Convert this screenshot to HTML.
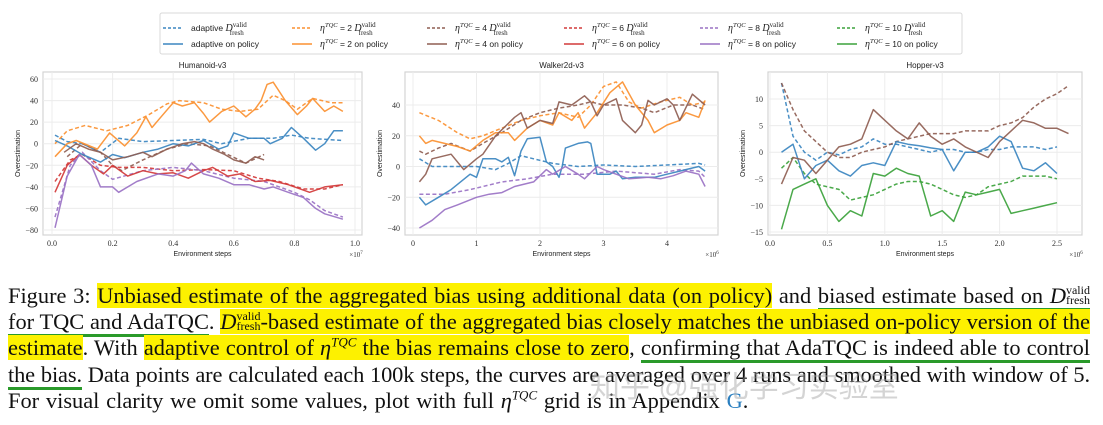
<!DOCTYPE html>
<html><head><meta charset="utf-8">
<style>
body{margin:0;background:#fff;width:1103px;height:425px;overflow:hidden;position:relative;font-family:"Liberation Serif",serif}
svg{position:absolute;left:0;top:0}
.cap{position:absolute;left:8px;width:1082px;height:26px;line-height:26px;font-size:22.4px;color:#111;text-align:justify;text-align-last:justify;white-space:nowrap}
.hl{background:#fdf100}
.ul{border-bottom:3px solid #2a9a2a}
.D{font-style:italic}
.ss{display:inline-block;font-size:12px;line-height:10px;height:0;vertical-align:top;position:relative;top:2px;text-align:left;text-align-last:left}
sup{line-height:0;font-size:13px}
</style></head><body>
<svg id="fig" width="1103" height="270"></svg>

<div class="cap" style="top:283px">Figure 3: <span class="hl">Unbiased estimate of the aggregated bias using additional data (on policy)</span> and <span class="ul">biased estimate based on <span class="D">D</span><span class="ss">valid<br>fresh</span></span></div>
<div class="cap" style="top:309px"><span class="ul">for TQC and AdaTQC</span>. <span class="hl"><span class="D">D</span><span class="ss">valid<br>fresh</span>-based estimate of the aggregated bias closely matches the unbiased on-policy version of the</span></div>
<div class="cap" style="top:335px"><span class="hl">estimate</span>. With <span class="hl">adaptive control of <i>η</i><sup><i>TQC</i></sup> the bias remains close to zero</span>, <span class="ul">confirming that AdaTQC is indeed able to control</span></div>
<div class="cap" style="top:362px;letter-spacing:-0.12px;word-spacing:-0.5px"><span class="ul">the bias.</span> Data points are calculated each 100k steps, the curves are averaged over 4 runs and smoothed with window of 5.</div>
<div class="cap" style="top:388px;text-align-last:left;word-spacing:1.2px">For visual clarity we omit some values, plot with full <i>η</i><sup><i>TQC</i></sup> grid is in Appendix <span style="color:#2a7fc0">G</span>.</div>
<div style="position:absolute;left:590px;top:362px;font-size:30px;color:rgba(160,160,160,0.45);font-family:'Liberation Sans','Noto Sans CJK SC',sans-serif">知乎 @强化学习实验室</div>

<script>
// ---------- Humanoid-v3 data (x in 1e7 steps) ----------
const hum_blue_s_x=[0.01,0.05,0.10,0.16,0.20,0.24,0.30,0.35,0.40,0.45,0.50,0.55,0.58,0.60,0.65,0.70,0.72,0.76,0.79,0.83,0.87,0.90,0.93,0.96];
const hum_blue_s_y=[3,-2,-10,-17,-10,-13,-8,-5,0,-2,3,-5,-2,10,5,5,0,5,15,5,-6,0,12,12];
const hum_blue_d_x=[0.01,0.05,0.10,0.16,0.22,0.30,0.40,0.50,0.56,0.65,0.73,0.79,0.85,0.96];
const hum_blue_d_y=[8,2,0,-8,5,2,3,4,0,5,5,8,5,3];
const hum_or_s_x=[0.01,0.05,0.08,0.15,0.19,0.24,0.28,0.31,0.33,0.36,0.40,0.43,0.47,0.50,0.52,0.56,0.60,0.64,0.67,0.69,0.71,0.73,0.77,0.81,0.84,0.86,0.90,0.93,0.96];
const hum_or_s_y=[-12,0,3,-5,10,-2,10,25,15,25,38,35,38,28,20,30,35,25,32,40,55,57,40,27,35,42,30,35,30];
const hum_or_d_x=[0.01,0.05,0.11,0.18,0.25,0.32,0.38,0.42,0.50,0.56,0.62,0.68,0.73,0.77,0.81,0.86,0.92,0.96];
const hum_or_d_y=[0,12,17,12,17,27,37,40,38,32,30,32,45,40,32,42,38,38];
const hum_br_s_x=[0.04,0.08,0.12,0.16,0.20,0.25,0.30,0.33,0.38,0.43,0.47,0.50,0.53,0.57,0.60,0.64,0.67,0.70];
const hum_br_s_y=[-8,0,-5,-8,-15,-12,-8,-12,-5,0,2,0,-5,-10,-15,-18,-12,-15];
const hum_br_d_x=[0.05,0.10,0.16,0.20,0.23,0.30,0.38,0.45,0.52,0.58,0.64,0.70];
const hum_br_d_y=[-12,0,-8,-20,-25,-15,-5,0,-2,-10,-18,-10];
const hum_red_s_x=[0.01,0.05,0.09,0.13,0.17,0.20,0.25,0.30,0.35,0.40,0.45,0.50,0.53,0.58,0.62,0.67,0.72,0.78,0.85,0.90,0.96];
const hum_red_s_y=[-45,-20,-10,-20,-28,-20,-30,-25,-28,-27,-32,-25,-22,-30,-28,-35,-34,-38,-45,-40,-38];
const hum_red_d_x=[0.01,0.06,0.10,0.16,0.22,0.30,0.40,0.50,0.60,0.68,0.75,0.83,0.90,0.96];
const hum_red_d_y=[-35,-15,-10,-20,-22,-22,-25,-24,-25,-32,-35,-42,-42,-38];
const hum_pu_s_x=[0.01,0.05,0.09,0.13,0.16,0.20,0.22,0.28,0.35,0.40,0.44,0.46,0.50,0.55,0.60,0.65,0.70,0.73,0.78,0.83,0.87,0.90,0.96];
const hum_pu_s_y=[-78,-30,-10,-20,-40,-40,-45,-35,-28,-30,-25,-18,-28,-32,-38,-38,-42,-40,-45,-50,-60,-65,-70];
const hum_pu_d_x=[0.01,0.06,0.10,0.16,0.20,0.30,0.40,0.50,0.60,0.70,0.80,0.85,0.90,0.96];
const hum_pu_d_y=[-68,-20,-8,-25,-33,-25,-22,-25,-32,-35,-45,-52,-62,-68];
// ---------- Walker2d-v3 data (x in 1e6 steps) ----------
const wal_or_s_x=[0.1,0.2,0.3,0.7,0.9,1.1,1.3,1.5,1.6,1.8,2.0,2.2,2.3,2.5,2.6,2.7,2.9,3.1,3.3,3.5,3.7,3.8,4.0,4.2,4.3,4.5,4.6];
const wal_or_s_y=[20,15,17,13,10,17,22,22,17,25,30,27,35,30,35,25,35,48,55,40,30,22,27,30,35,32,43];
const wal_or_d_x=[0.1,0.4,0.7,0.9,1.1,1.4,1.7,2.0,2.3,2.6,2.8,3.0,3.2,3.4,3.6,3.9,4.2,4.4,4.6];
const wal_or_d_y=[35,30,22,18,20,25,30,33,35,32,40,52,55,42,38,42,45,40,42];
const wal_br_s_x=[0.1,0.2,0.3,0.6,0.8,1.0,1.1,1.3,1.6,1.7,1.8,2.0,2.2,2.3,2.5,2.7,2.8,2.9,3.0,3.2,3.3,3.5,3.6,3.7,3.8,4.0,4.1,4.2,4.4,4.6];
const wal_br_s_y=[-10,-5,5,8,-2,5,8,20,32,35,25,30,28,42,40,46,42,33,40,44,30,22,27,43,40,44,40,30,47,40];
const wal_br_d_x=[0.1,0.2,0.4,0.6,0.9,1.1,1.4,1.7,2.0,2.3,2.6,2.8,3.0,3.3,3.6,3.8,4.1,4.4,4.6];
const wal_br_d_y=[10,8,12,15,10,15,22,30,35,38,40,42,40,40,38,35,40,40,37];
const wal_blue_s_x=[0.1,0.2,0.4,0.6,0.9,1.0,1.1,1.3,1.4,1.5,1.6,1.7,1.8,2.0,2.1,2.2,2.3,2.35,2.4,2.6,2.75,2.8,2.9,3.1,3.2,3.3,3.5,3.8,4.0,4.2,4.4,4.5,4.6];
const wal_blue_s_y=[-20,-25,-20,-15,-5,-7,5,5,3,6,-6,10,18,19,3,0,-7,0,12,15,16,15,-5,-5,-3,-8,-7,-7,-5,-3,-1,0,-3];
const wal_blue_d_x=[0.1,0.3,1.0,1.3,1.5,1.7,1.9,2.2,2.6,3.0,3.5,4.0,4.5,4.6];
const wal_blue_d_y=[5,0,0,-2,2,7,5,2,0,1,0,1,2,1];
const wal_pu_s_x=[0.1,0.3,0.5,0.7,1.0,1.2,1.4,1.6,1.9,2.1,2.2,2.4,2.6,2.7,2.9,3.0,3.2,3.4,3.7,3.9,4.1,4.3,4.5,4.6];
const wal_pu_s_y=[-40,-35,-28,-25,-20,-18,-17,-13,-10,-2,-5,0,-5,-8,0,-2,-5,-8,-7,-8,-6,-3,-5,-13];
const wal_pu_d_x=[0.1,0.5,0.9,1.4,1.8,2.2,2.7,3.2,3.8,4.2,4.5,4.6];
const wal_pu_d_y=[-18,-18,-15,-10,-8,-5,-5,-3,-5,-2,-3,-7];
// ---------- Hopper-v3 data (x in 1e6 steps) ----------
const hop_x=[0.1,0.2,0.3,0.4,0.5,0.6,0.7,0.8,0.9,1.0,1.1,1.2,1.3,1.4,1.5,1.6,1.7,1.8,1.9,2.0,2.1,2.2,2.3,2.4,2.5,2.6];
const hop_br_s_y=[-6,-1,-1.5,-4,-1.5,1,1.5,2.5,8,6,4,2.5,5.5,3,1.5,2.5,1,0,-1,2,4,6,5.5,4.5,4.5,3.5];
const hop_br_d_y=[13,8,4,2,0,-1,-1,0,0.5,1,2,2.5,3,3.5,3.5,3.5,4,4,4,5,5.5,6.5,8.5,10,11,12.5];
const hop_blue_s_y=[0,1.5,-5,-2.5,-1.5,-3.5,-4.5,-2.5,-2,-2.5,2,1.5,1.2,0.8,0.5,-3.5,0,0,1,3,2,-3,-3.5,-2,-4];
const hop_blue_d_y=[13,3,0,-1.5,0,-0.5,0.5,1,2.5,1.5,1.5,1,0.5,0,0.5,0.5,0,0,0.5,0.5,1,1,1,0.5,1];
const hop_gr_s_y=[-14.5,-7,-6,-5,-10,-13,-11,-12,-4,-4.5,-3,-4,-4.5,-12,-11,-13,-7.5,-8,-7.5,-7,-11.5,-11,-10.5,-10,-9.5];
const hop_gr_d_y=[-3,-1,-4,-6,-6.5,-7,-9,-8.5,-8,-7,-6,-5.5,-5.5,-6,-7,-8,-8.5,-8,-6.5,-6,-5.5,-4.5,-4.5,-4.5,-5];
// tick values
const hum_xticks=[0,0.2,0.4,0.6,0.8,1.0], hum_yticks=[-80,-60,-40,-20,0,20,40,60];
const wal_xticks=[0,1,2,3,4], wal_yticks=[-40,-20,0,20,40];
const hop_xticks=[0,0.5,1.0,1.5,2.0,2.5], hop_yticks=[-15,-10,-5,0,5,10];

const C={blue:'#3b86c0',orange:'#fb9030',brown:'#8f5e52',red:'#d23a3a',purple:'#9a72c4',green:'#3ba23b'};
const NS='http://www.w3.org/2000/svg';
const svg=document.getElementById('fig');
function mk(tag,attrs,parent){const e=document.createElementNS(NS,tag);for(const k in attrs)e.setAttribute(k,attrs[k]);(parent||svg).appendChild(e);return e;}

function panel(p){
  const g=mk('g',{});
  
  
  const sx=v=>p.x0+(v-p.d0)*(p.x1-p.x0)/(p.d1-p.d0);
  const sy=v=>p.y0+(v-p.v0)*(p.y1-p.y0)/(p.v1-p.v0);
  const bg=mk('rect',{x:p.L,y:p.T,width:p.R-p.L,height:p.B-p.T,fill:'#fff',stroke:'#d4d4d4','stroke-width':1.2},g);
  
  
  p.xt.forEach(t=>{const x=sx(t);
    mk('line',{x1:x,x2:x,y1:p.T,y2:p.B,stroke:'#ececec','stroke-width':1},g);
    const tx=mk('text',{x:x,y:p.B+11,'font-size':8,'text-anchor':'middle',fill:'#333','font-family':'Liberation Serif,serif'},g);
    tx.textContent=p.fmt(t);
    
    });
  p.yt.forEach(t=>{const y=sy(t);
    mk('line',{x1:p.L,x2:p.R,y1:y,y2:y,stroke:'#ececec','stroke-width':1},g);
    const tx=mk('text',{x:p.L-5,y:y+3,'font-size':8,'text-anchor':'end',fill:'#333','font-family':'Liberation Serif,serif'},g);
    tx.textContent=(t<0?'−':'')+Math.abs(t);
    
    });
  const ti=mk('text',{x:(p.L+p.R)/2,y:p.T-4,'font-size':8,'text-anchor':'middle',fill:'#222','font-family':'Liberation Sans,sans-serif'},g);
  ti.textContent=p.title;
  
  
  const xl=mk('text',{x:(p.L+p.R)/2,y:p.B+21,'font-size':7,'text-anchor':'middle',fill:'#222','font-family':'Liberation Sans,sans-serif'},g);
  xl.textContent='Environment steps';
  
  
  const yl=mk('text',{x:0,y:0,'font-size':7,'text-anchor':'middle',fill:'#222','font-family':'Liberation Sans,sans-serif',transform:`translate(${p.L-23},${(p.T+p.B)/2}) rotate(-90)`},g);
  yl.textContent='Overestimation';
  
  
  const ex=mk('text',{x:p.R-6,y:p.B+22,'font-size':7,'text-anchor':'middle',fill:'#333','font-family':'Liberation Serif,serif'},g);
  ex.innerHTML='×10<tspan dy="-3" font-size="5">'+p.exp+'</tspan>';
  
  
  p.series.forEach(s=>{
    const d=s.y.map((v,i)=>(i?'L':'M')+sx(s.x[i]).toFixed(1)+','+sy(v).toFixed(1)).join('');
    const pa=mk('path',{d:d,fill:'none',stroke:s.c,'stroke-width':1.5,'stroke-linejoin':'round','stroke-dasharray':s.dash?'4,2.5':'none',opacity:0.92},g);
    
    
  });
}
const hs=hop_x, hs25=hop_x.slice(0,25);
panel({name:'humanoid',title:'Humanoid-v3',L:43,R:362,T:72,B:235,x0:52,x1:355,d0:0,d1:1,y0:79,y1:230,v0:60,v1:-80,exp:'7',
  xt:hum_xticks,yt:hum_yticks,fmt:t=>t.toFixed(1),
  series:[
   {n:'adaptive-fresh-line',x:hum_blue_d_x,y:hum_blue_d_y,c:C.blue,dash:1},
   {n:'eta2-fresh-line',x:hum_or_d_x,y:hum_or_d_y,c:C.orange,dash:1},
   {n:'eta4-fresh-line',x:hum_br_d_x,y:hum_br_d_y,c:C.brown,dash:1},
   {n:'eta6-fresh-line',x:hum_red_d_x,y:hum_red_d_y,c:C.red,dash:1},
   {n:'eta8-fresh-line',x:hum_pu_d_x,y:hum_pu_d_y,c:C.purple,dash:1},
   {n:'adaptive-on-policy-line',x:hum_blue_s_x,y:hum_blue_s_y,c:C.blue},
   {n:'eta2-on-policy-line',x:hum_or_s_x,y:hum_or_s_y,c:C.orange},
   {n:'eta4-on-policy-line',x:hum_br_s_x,y:hum_br_s_y,c:C.brown},
   {n:'eta6-on-policy-line',x:hum_red_s_x,y:hum_red_s_y,c:C.red},
   {n:'eta8-on-policy-line',x:hum_pu_s_x,y:hum_pu_s_y,c:C.purple}]});
panel({name:'walker',title:'Walker2d-v3',L:405,R:718,T:72,B:235,x0:413,x1:667,d0:0,d1:4,y0:105,y1:228,v0:40,v1:-40,exp:'6',
  xt:wal_xticks,yt:wal_yticks,fmt:t=>String(t),
  series:[
   {n:'adaptive-fresh-line',x:wal_blue_d_x,y:wal_blue_d_y,c:C.blue,dash:1},
   {n:'eta2-fresh-line',x:wal_or_d_x,y:wal_or_d_y,c:C.orange,dash:1},
   {n:'eta4-fresh-line',x:wal_br_d_x,y:wal_br_d_y,c:C.brown,dash:1},
   {n:'eta8-fresh-line',x:wal_pu_d_x,y:wal_pu_d_y,c:C.purple,dash:1},
   {n:'adaptive-on-policy-line',x:wal_blue_s_x,y:wal_blue_s_y,c:C.blue},
   {n:'eta2-on-policy-line',x:wal_or_s_x,y:wal_or_s_y,c:C.orange},
   {n:'eta4-on-policy-line',x:wal_br_s_x,y:wal_br_s_y,c:C.brown},
   {n:'eta8-on-policy-line',x:wal_pu_s_x,y:wal_pu_s_y,c:C.purple}]});
panel({name:'hopper',title:'Hopper-v3',L:768,R:1082,T:72,B:235,x0:770,x1:1057,d0:0,d1:2.5,y0:99,y1:232,v0:10,v1:-15,exp:'6',
  xt:hop_xticks,yt:hop_yticks,fmt:t=>t.toFixed(1),
  series:[
   {n:'adaptive-fresh-line',x:hs25,y:hop_blue_d_y,c:C.blue,dash:1},
   {n:'eta4-fresh-line',x:hs,y:hop_br_d_y,c:C.brown,dash:1},
   {n:'eta10-fresh-line',x:hs25,y:hop_gr_d_y,c:C.green,dash:1},
   {n:'adaptive-on-policy-line',x:hs25,y:hop_blue_s_y,c:C.blue},
   {n:'eta4-on-policy-line',x:hs,y:hop_br_s_y,c:C.brown},
   {n:'eta10-on-policy-line',x:hs25,y:hop_gr_s_y,c:C.green}]});

// ---------- legend ----------
const lg=mk('g',{});


mk('rect',{x:160,y:13,width:802,height:41,fill:'#fff',stroke:'#d8d8d8','stroke-width':1,rx:2},lg);
const legCols=[163,292,427,564,700,837];
const legColors=[C.blue,C.orange,C.brown,C.red,C.purple,C.green];
const legEta=['','2','4','6','8','10'];
legCols.forEach((x,i)=>{
  [0,1].forEach(r=>{
    const y=r?44:28;
    const ln=mk('line',{x1:x,x2:x+20,y1:y,y2:y,stroke:legColors[i],'stroke-width':1.5,'stroke-dasharray':r?'none':'3,2'},lg);
    
    
    const t=mk('text',{x:x+28,y:y+3,'font-size':8.5,fill:'#222','font-family':'Liberation Sans,sans-serif'},lg);
    const head=i===0?'adaptive ':'<tspan font-family="Liberation Serif,serif" font-style="italic" font-size="10">η</tspan><tspan dy="-4" font-size="6.5" font-style="italic" font-family="Liberation Serif,serif">TQC</tspan><tspan dy="4"> = '+legEta[i]+' </tspan>';
    const tail=r?'on policy':'<tspan font-family="Liberation Serif,serif" font-style="italic" font-size="10">D</tspan><tspan dy="-4" font-size="7" font-family="Liberation Serif,serif">valid</tspan><tspan dx="-17" dy="8" font-size="7" font-family="Liberation Serif,serif">fresh</tspan>';
    t.innerHTML=head+tail;
    
    
  });
});
</script>
</body></html>
